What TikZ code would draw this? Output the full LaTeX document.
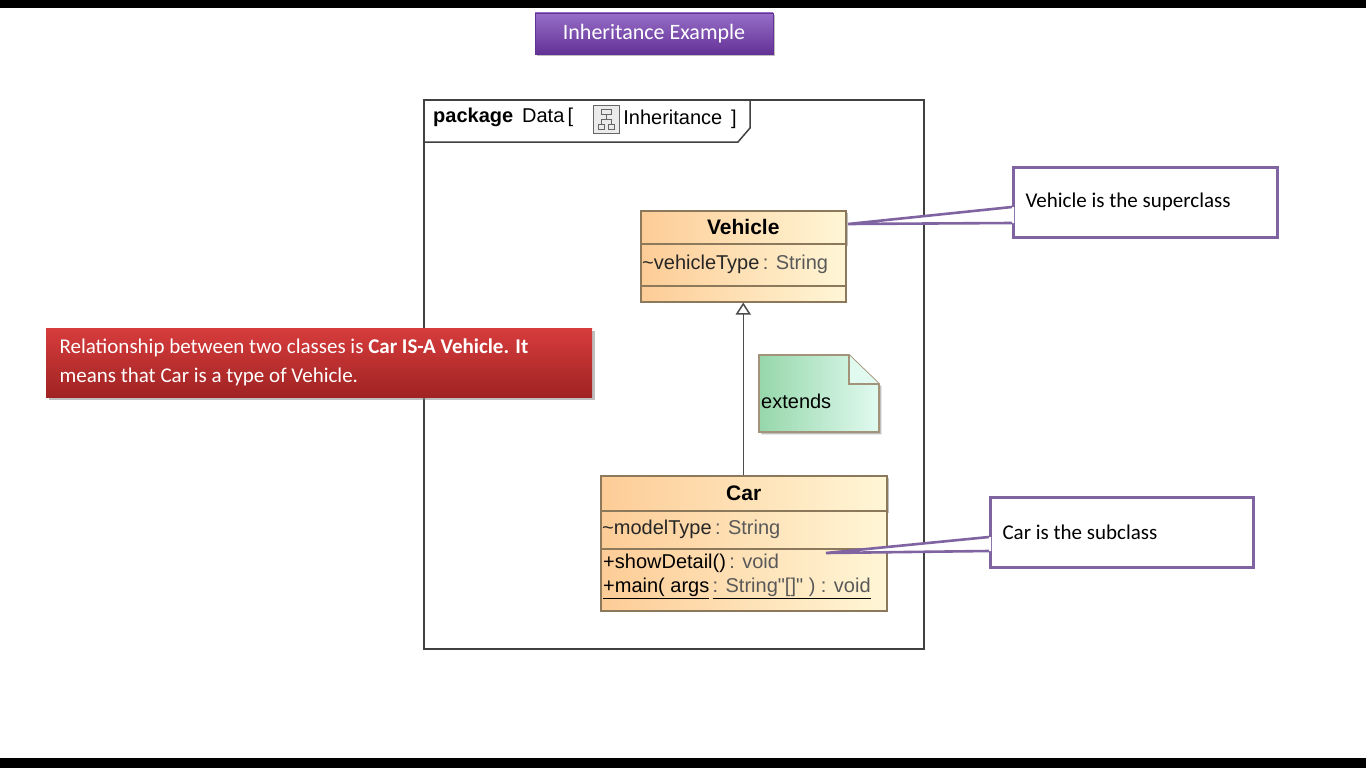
\documentclass[tikz,border=0pt]{standalone}
\usepackage{fontspec}
\setmainfont{Carlito}
\newfontfamily\umlfont{Liberation Sans}
\usetikzlibrary{positioning,arrows.meta,shadows,shapes.misc}
\definecolor{classA}{RGB}{253,204,150}
\definecolor{classB}{RGB}{255,246,214}
\definecolor{classLine}{RGB}{140,120,90}
\definecolor{calloutLine}{RGB}{128,100,162}
\definecolor{titleTop}{RGB}{150,110,200}
\definecolor{titleBot}{RGB}{100,50,150}
\definecolor{noteA}{RGB}{150,215,170}
\definecolor{noteB}{RGB}{225,250,240}
\definecolor{redTop}{RGB}{215,60,60}
\definecolor{redBot}{RGB}{160,35,35}
\tikzset{
  umltext/.style={font=\umlfont\fontsize{20}{23}\selectfont},
  compart/.style={draw=classLine, line width=1.5pt, left color=classA, right color=classB, anchor=north west, inner sep=0pt},
  callout/.style={draw=calloutLine, line width=2.6pt, fill=white, anchor=north west, inner sep=0pt},
}
\begin{document}
\begin{tikzpicture}[x=1pt,y=-1pt]
    \useasboundingbox (0,0) rectangle (1366,768);
    \fill[white] (0,0) rectangle (1366,768);
    \fill[black] (0,0) rectangle (1366,8);
    \fill[black] (0,758) rectangle (1366,768);

    % Title
    \node[draw=titleBot, top color=titleTop, bottom color=titleBot, drop shadow,
          minimum width=238, minimum height=41, text=white,
          font=\fontsize{22}{25}\selectfont] (title) at (654,33.5) {Inheritance Example};

    % Package frame
    \draw[line width=1.5pt, draw=black!75] (424,100) rectangle (924,649);
    \draw[line width=1.5pt, draw=black!75] (424,142) -- (738,142) -- (750,128) -- (750,100);
    \node[umltext, anchor=west, inner sep=0pt] (pkg) at (433,117) {\textbf{package}\, Data\,[};
    \node[draw=black!60, fill=black!8, minimum width=26, minimum height=28, inner sep=0pt] (icon) at (606,119) {};
    \draw[black!60, line width=0.8pt] (601,109) rectangle (611,114) (598,124) rectangle (604,129) (608,124) rectangle (614,129)
        (606,114) -- (606,119) (601,119) -- (611,119) (601,119) -- (601,124) (611,119) -- (611,124);
    \node[umltext, anchor=west, inner sep=0pt, right=4 of icon] (pkgName) {Inheritance\, ]};

    % Vehicle class
    \node[compart, drop shadow, minimum width=205, minimum height=33] (vehName) at (640,210) {};
    \node[umltext, font=\umlfont\bfseries\fontsize{21}{24}\selectfont] at (vehName.center) {Vehicle};
    \node[compart, minimum width=205, minimum height=42] (vehAttr) at (640,243) {};
    \node[umltext, anchor=west, inner sep=2pt] at (vehAttr.west) {\textcolor{black!85}{\textasciitilde vehicleType}\,\textcolor{black!65}{: String}};
    \node[compart, minimum width=205, minimum height=16] (vehOps) at (640,285) {};

    % Car class
    \node[compart, drop shadow, minimum width=286, minimum height=35] (carName) at (600,475) {};
    \node[umltext, font=\umlfont\bfseries\fontsize{21}{24}\selectfont] at (carName.center) {Car};
    \node[compart, minimum width=286, minimum height=38] (carAttr) at (600,510) {};
    \node[umltext, anchor=west, inner sep=2pt] at (carAttr.west) {\textcolor{black!85}{\textasciitilde modelType}\,\textcolor{black!65}{: String}};
    \node[compart, minimum width=286, minimum height=62] (carOps) at (600,548) {};
    \node[umltext, anchor=north west, inner sep=3pt, align=left, font=\umlfont\fontsize{20}{24}\selectfont] at ([yshift=-3]carOps.north west)
        {+showDetail()\,\textcolor{black!65}{: void}\\
         \underline{+main( args}\,\underline{\textcolor{black!65}{: String"[]" ) : void}}};

    % Generalization
    \draw[line width=1.5pt, draw=black!70, -{Triangle[open, length=12pt, width=15pt]}] (carName.north -| vehOps.south) -- (vehOps.south);

    % Note
    \draw[line width=1.8pt, draw=classLine!80, left color=noteA, right color=noteB, drop shadow]
        (759,355) -- (849,355) -- (879,384) -- (879,432) -- (759,432) -- cycle;
    \draw[line width=1.5pt, draw=classLine!80, fill=noteB] (849,355) -- (849,384) -- (879,384);
    \node[umltext, anchor=west, inner sep=2pt] (note) at (759,401) {extends};

    % Red callout
    \node[anchor=north west, minimum width=546, minimum height=69, top color=redTop, bottom color=redBot,
          drop shadow, text=white, align=left, inner sep=0pt, font=\fontsize{21}{29}\selectfont]
        (relation) at (46,328) {};
    \node[text=white, align=left, anchor=west, font=\fontsize{21}{29}\selectfont] at ([xshift=10]relation.west)
        {Relationship between two classes is \textbf{Car IS-A Vehicle. It}\\ means that Car is a type of Vehicle.};

    % Callouts
    \node[callout, minimum width=264, minimum height=70] (superNote) at (1012,166) {};
    \node[anchor=west, font=\fontsize{21}{24}\selectfont] at ([xshift=10]superNote.west) {Vehicle is the superclass};
    \coordinate (superTip) at (848,224);
    \fill[white] (superTip) -- (1014,207) -- (1014,223) -- cycle;
    \draw[calloutLine, line width=2.6pt] (1012,207) -- (superTip) -- (1012,223);

    \node[callout, minimum width=263, minimum height=70] (subNote) at (989,496) {};
    \node[anchor=west, font=\fontsize{21}{24}\selectfont] at ([xshift=10]subNote.west) {Car is the subclass};
    \coordinate (subTip) at (826,553);
    \fill[white] (subTip) -- (991,537) -- (991,551) -- cycle;
    \draw[calloutLine, line width=2.6pt] (989,537) -- (subTip) -- (989,551);
\end{tikzpicture}
\end{document}
